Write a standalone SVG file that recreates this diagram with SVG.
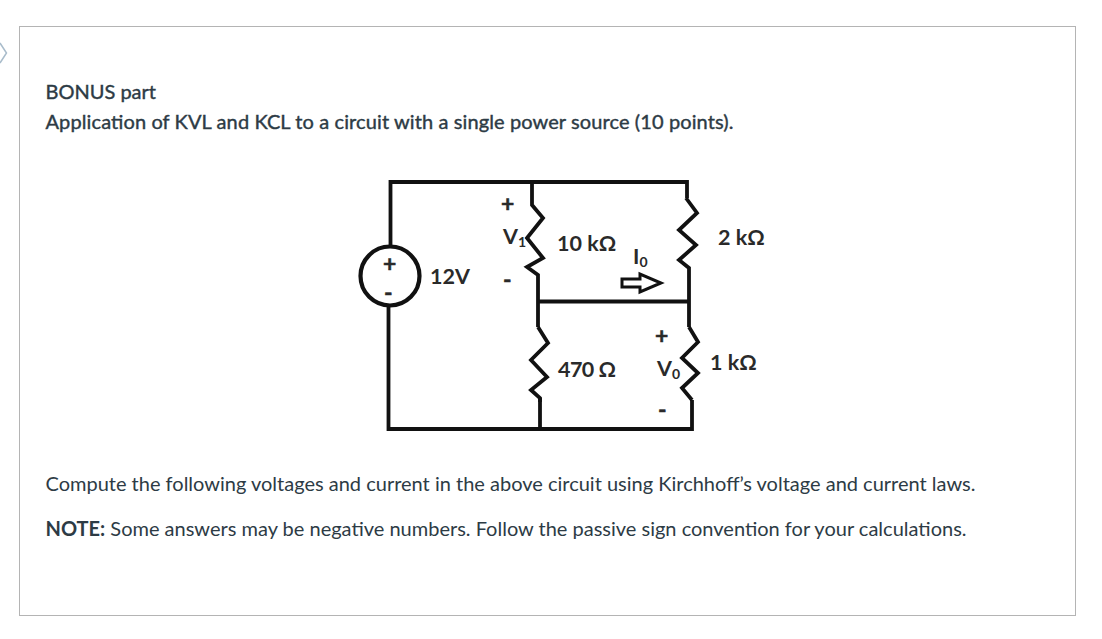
<svg xmlns="http://www.w3.org/2000/svg" width="1102" height="639" viewBox="0 0 1102 639">
<style>
text{font-family:Lato,"Open Sans",sans-serif;fill:#2d3b45}
.h{font-size:20px;stroke:#2d3b45;stroke-width:.4px}
.b{font-size:20px}
.l{font-size:21.500px;font-weight:700;fill:#2a2a2a}
.p{font-size:23px;stroke:#2a2a2a;stroke-width:.5px}
.s{font-size:14px;font-weight:700;fill:#2a2a2a}
.w{fill:none;stroke:#111;stroke-width:3.800;stroke-linejoin:miter}
</style>
<rect x="0" y="0" width="1102" height="639" fill="#fff"/>
<path d="M0 43 L6.500 53 L0 63" fill="none" stroke="#a9bccb" stroke-width="1.500"/>
<rect x="19.500" y="26.500" width="1056" height="589" fill="none" stroke="#b4b4b4" stroke-width="1"/>
<g id="heading">
<text class="h" x="45.500" y="98.500">BONUS part</text>
<text class="h" x="45.500" y="128.500" textLength="688">Application of KVL and KCL to a circuit with a single power source (10 points).</text>
</g>
<g id="connectors">
<path class="w" d="M390.500 246 V182 H687 V198"/>
<path class="w" d="M388.500 306 V429 H692 V400"/>
<path class="w" d="M538 301.500 H689"/>
<path class="w" d="M540 429 V398"/>
</g>
<g id="source-12V">
<circle class="w" cx="390" cy="276" r="29.500" fill="#fff" style="stroke-width:4.200"/>
<text class="l p" x="383" y="272">+</text>
<text class="l p" x="384" y="301">-</text>
<text class="l" x="430" y="284">12V</text>
</g>
<g id="R-10k">
<path class="w" d="M532 182 V205 L543 218 L527 238 L543 258 L527 267 L538 275 V327"/>
<text class="l" x="557" y="251">10 kΩ</text>
<text class="l p" x="501" y="212">+</text>
<text class="l" x="503" y="244">V<tspan class="s" dy="3">1</tspan></text>
<text class="l p" x="503" y="288">-</text>
</g>
<g id="R-2k">
<path class="w" d="M686 198 L697 213 L679 230 L696 245 L679 260 L689 268 V327"/>
<text class="l" x="718" y="245">2 kΩ</text>
</g>
<g id="R-470">
<path class="w" d="M538 327 L548 343 L531 360 L547 377 L531 390 L540 398 V402"/>
<text class="l" x="558" y="377" textLength="58">470 Ω</text>
</g>
<g id="R-1k">
<path class="w" d="M689 327 L698 342 L682 358 L698 373 L682 388 L692 400"/>
<text class="l" x="710" y="370">1 kΩ</text>
<text class="l p" x="655" y="344">+</text>
<text class="l" x="657" y="376">V<tspan class="s" dy="3">0</tspan></text>
<text class="l p" x="658" y="418">-</text>
</g>
<g id="current-Io">
<text class="l" x="633" y="264">I<tspan class="s" dy="3">0</tspan></text>
<path d="M622 279 H640 V274 L661 283 L640 292 V287 H622 Z" fill="#fff" stroke="#111" stroke-width="3"/>
</g>
<g id="body">
<text class="b" x="45.500" y="490.500">Compute the following voltages and current in the above circuit using Kirchhoff’s voltage and current laws.</text>
<text class="b" x="45.500" y="535.500"><tspan font-weight="700" style="font-weight:700">NOTE:</tspan> Some answers may be negative numbers. Follow the passive sign convention for your calculations.</text>
</g>
</svg>
